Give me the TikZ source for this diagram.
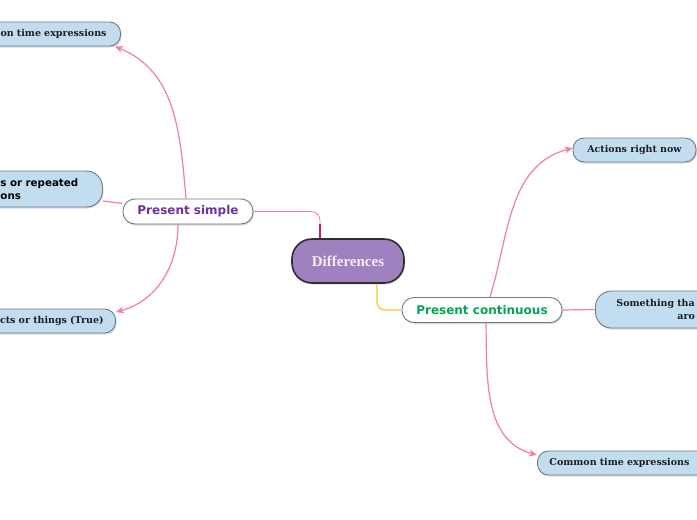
\documentclass[tikz,border=0pt]{standalone}
\usepackage{fontspec}
\usetikzlibrary{arrows.meta,shadows}
\newfontfamily\topicfont{DejaVu Sans}
\newfontfamily\leaffont{DejaVu Serif}
\newfontfamily\rootfont{Liberation Serif}
\definecolor{leafblue}{HTML}{C3DDF0}
\definecolor{leafedge}{HTML}{6F7A82}
\definecolor{leaftext}{HTML}{1E1E1E}
\definecolor{rootpurple}{HTML}{A081C0}
\definecolor{rootedge}{HTML}{2E2E2E}
\definecolor{roottext}{HTML}{F4ECF8}
\definecolor{simplepurple}{HTML}{7030A0}
\definecolor{contgreen}{HTML}{00A651}
\definecolor{branchpink}{HTML}{F27DA8}
\definecolor{rootred}{HTML}{E0155E}
\definecolor{linkyellow}{HTML}{F7C82A}

\begin{document}
\begin{tikzpicture}[x=1pt,y=1pt,
    root/.style={draw=rootedge, fill=rootpurple, line width=1.6pt, rounded corners=20pt,
      minimum width=112pt, minimum height=44pt, text=roottext,
      font=\rootfont\bfseries\fontsize{15}{18}\selectfont,
      drop shadow={shadow xshift=1pt, shadow yshift=-1.5pt, opacity=0.3}},
    topic/.style={draw=leafedge, fill=white, line width=0.9pt, rounded corners=12pt,
      minimum height=25pt, inner ysep=0pt,
      font=\topicfont\bfseries\fontsize{12}{14}\selectfont,
      drop shadow={shadow xshift=1pt, shadow yshift=-1.5pt, opacity=0.3}},
    leaf/.style={draw=leafedge, fill=leafblue, line width=0.9pt, rounded corners=11pt,
      minimum height=24pt, inner ysep=0pt, text=leaftext,
      font=\leaffont\bfseries\fontsize{9.5}{12.5}\selectfont,
      drop shadow={shadow xshift=1pt, shadow yshift=-1.5pt, opacity=0.3}},
    branch/.style={draw=branchpink, line width=1.2pt},
    arrowed/.style={-{Stealth[length=8pt,width=7pt]}}
  ]
  \useasboundingbox (0,0) rectangle (697,-520);
  \clip (0,0) rectangle (697,-520);

  % centre and the two tenses
  \node[root] (diff) at (348,-261) {Differences};
  \node[topic, text=simplepurple, minimum width=130pt] (simple) at (188,-211.5) {Present simple};
  \node[topic, text=contgreen, minimum width=160pt] (cont) at (482,-310) {Present continuous};

  % present simple leaves
  \node[leaf, anchor=east, text width=130pt, align=right, inner xsep=14pt] (expr) at (121,-34) {on time expressions};
  \node[leaf, anchor=west, text width=80pt, align=left, inner xsep=22pt, minimum height=36pt,
    rounded corners=16pt, text=black, font=\topicfont\bfseries\fontsize{10.3}{13}\selectfont]
    (habit) at (-22,-189) {s or repeated\\ons};
  \node[leaf, anchor=east, text width=130pt, align=right, inner xsep=12pt] (facts) at (116,-321) {cts or things (True)};

  % present continuous leaves
  \node[leaf, minimum width=123pt] (now) at (634.5,-150) {Actions right now};
  \node[leaf, anchor=west, text width=130pt, align=left, inner xsep=21pt, minimum height=37pt,
    rounded corners=16pt] (around) at (595,-309.5) {Something tha\\\hspace*{61pt}aro};
  \node[leaf, anchor=west, text width=170pt, align=left, inner xsep=12pt] (when) at (537,-463) {Common time expressions};

  % links from the centre
  \draw[draw=branchpink, line width=0.8pt, rounded corners=9pt] ([xshift=-28pt]diff.north) |- (simple.east);
  \draw[draw=rootred, line width=1.8pt] ([xshift=-28pt]diff.north) -- ++(0,14pt);
  \draw[draw=linkyellow, line width=1.4pt, rounded corners=8pt] ([xshift=29pt]diff.south) |- (cont.west);

  % branches
  \draw[branch, arrowed] ([xshift=-2pt]simple.north) to[out=95,in=-22] ([xshift=-6pt]expr.south east);
  \draw[branch] ([yshift=8pt]simple.west) -- ([yshift=-12pt]habit.east);
  \draw[branch, arrowed] ([xshift=-10pt]simple.south) to[out=-90,in=15] ([yshift=9pt]facts.east);
  \draw[branch, arrowed] ([xshift=8pt]cont.north) to[out=73,in=195] ([yshift=2pt]now.west);
  \draw[branch] (cont.east) -- (around.west);
  \draw[branch, arrowed] ([xshift=4pt]cont.south) to[out=-89,in=165] ([yshift=8pt]when.west);
\end{tikzpicture}
\end{document}
